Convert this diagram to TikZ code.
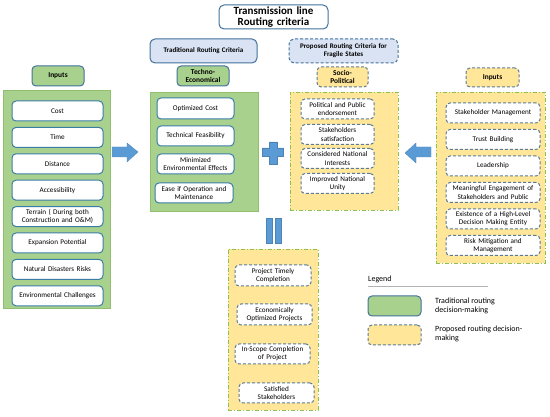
\documentclass[tikz,border=0pt]{standalone}
\usepackage{fontspec}
\setmainfont{Carlito}
\definecolor{greenfill}{HTML}{A9D18E}
\definecolor{greenline}{HTML}{8FBF6F}
\definecolor{itemblue}{HTML}{3A7CA5}
\definecolor{labelblue}{HTML}{41719C}
\definecolor{lightblue}{HTML}{DAE3F3}
\definecolor{yellowfill}{HTML}{FFE699}
\definecolor{dashgray}{HTML}{5A7A96}
\definecolor{paneldash}{HTML}{8DC04E}
\definecolor{arrowblue}{HTML}{5B9BD5}
\begin{document}
\begin{tikzpicture}[x=1pt,y=-1pt,
  sz/.style 2 args={minimum width=#1pt, minimum height=#2pt, text width=#1pt},
  base/.style={inner sep=0pt, align=center, font=\fontsize{7.2}{8.2}\selectfont},
  panelT/.style={base, draw=greenline, fill=greenfill, line width=0.7pt},
  panelP/.style={base, draw=paneldash, fill=yellowfill, line width=0.9pt, dash pattern=on 4pt off 2pt on 1pt off 2pt},
  itemT/.style={base, draw=itemblue, fill=white, rounded corners=4pt, line width=1pt},
  itemP/.style={base, draw=dashgray, fill=white, rounded corners=4pt, line width=1pt, dash pattern=on 3pt off 2pt},
  labelT/.style={base, draw=labelblue, fill=greenfill, rounded corners=4pt, line width=1pt, font=\fontsize{7.4}{8.2}\selectfont\bfseries},
  labelP/.style={base, draw=dashgray, fill=yellowfill, rounded corners=4pt, line width=1pt, dash pattern=on 3pt off 2pt, font=\fontsize{7.4}{8.2}\selectfont\bfseries},
  headT/.style={base, draw=labelblue, fill=lightblue, rounded corners=5pt, line width=1pt, font=\fontsize{7}{8}\selectfont\bfseries},
  headP/.style={headT, dash pattern=on 3pt off 2pt},
  legtext/.style={base, anchor=west, align=left, font=\fontsize{8}{9.2}\selectfont},
  blueshape/.style={fill=arrowblue, draw=arrowblue!85!black, line width=0.3pt}
]
\useasboundingbox (0,0) rectangle (550,417);

% title
\node[base, sz={109}{24}, draw=labelblue, fill=white, rounded corners=5pt, line width=1pt,
  font=\fontsize{11}{11.5}\selectfont\bfseries] (title) at (273.5,17) {Transmission line\\Routing criteria};

% headers
\node[headT, sz={107}{24}] (trad) at (203.5,51) {Traditional Routing Criteria};
\node[headP, sz={109}{24}] (prop) at (343.5,51) {Proposed Routing Criteria for\\Fragile States};

% left inputs
\node[labelT, sz={52}{20}] (inL) at (58,76) {Inputs};
\node[panelT, sz={107}{218}] (panL) at (56.5,199) {};
\foreach \t [count=\i from 0] in {Cost,Time,Distance,Accessibility,{Terrain ( During both\\Construction and O\&M)},Expansion Potential,Natural Disasters Risks,Environmental Challenges}{
  \node[itemT, sz={91}{20}] (L\i) at (57.5,111+26.4*\i) {\t};
}

% techno-economical
\node[labelT, sz={52}{20}] (tech) at (203,76) {Techno-\\Economical};
\node[panelT, sz={108}{119}] (panT) at (204,151.5) {};
\node[itemT, sz={77}{21}] (T0) at (195.5,108.5) {Optimized Cost};
\node[itemT, sz={77}{20}] (T1) at (195.5,136) {Technical Feasibility};
\node[itemT, sz={77}{20}] (T2) at (195.5,164) {Minimized\\Environmental Effects};
\node[itemT, sz={78}{20}] (T3) at (194,193) {Ease if Operation and\\Maintenance};

% socio-political
\node[labelP, sz={51}{20}] (soc) at (342.5,77) {Socio-\\Political};
\node[panelP, sz={108}{118}] (panS) at (344,151) {};
\node[itemP, sz={73}{20}] (S0) at (337.5,109) {Political and Public\\endorsement};
\node[itemP, sz={73}{20}] (S1) at (337.5,134.5) {Stakeholders\\satisfaction};
\node[itemP, sz={73}{20}] (S2) at (337.5,158.5) {Considered National\\Interests};
\node[itemP, sz={73}{20}] (S3) at (337.5,183.5) {Improved National\\Unity};

% right inputs
\node[labelP, sz={53}{19}] (inR) at (492.5,77.5) {Inputs};
\node[panelP, sz={109}{171}] (panR) at (490.5,177.5) {};
\node[itemP, sz={94}{20}] (R0) at (493,113) {Stakeholder Management};
\node[itemP, sz={94}{20}] (R1) at (493,139.5) {Trust Building};
\node[itemP, sz={94}{20}] (R2) at (493,166) {Leadership};
\node[itemP, sz={94}{20}] (R3) at (493,192.5) {Meaningful Engagement of\\Stakeholders and Public};
\node[itemP, sz={94}{20}] (R4) at (493,219) {Existence of a High-Level\\Decision Making Entity};
\node[itemP, sz={94}{20}] (R5) at (493,245.5) {Risk Mitigation and\\Management};

% outcomes
\node[panelP, sz={90}{161}] (panB) at (273,329.5) {};
\node[itemP, sz={76}{21}] (B0) at (273,275.5) {Project Timely\\Completion};
\node[itemP, sz={75}{21}] (B1) at (274.5,314.5) {Economically\\Optimized Projects};
\node[itemP, sz={75}{20}] (B2) at (272.5,354) {In-Scope Completion\\of Project};
\node[itemP, sz={75}{20}] (B3) at (276.5,393) {Satisfied\\Stakeholders};

% block arrows, plus, equals
\fill[blueshape] (112,147) -- (127,147) -- (127,143) -- (138,152) -- (127,162) -- (127,157) -- (112,157) -- cycle;
\fill[blueshape] (431,147) -- (416,147) -- (416,143) -- (405,153) -- (416,163) -- (416,157) -- (431,157) -- cycle;
\fill[blueshape] (269,142) -- (277,142) -- (277,148) -- (283,148) -- (283,156) -- (277,156) -- (277,164) -- (269,164) -- (269,156) -- (262,156) -- (262,148) -- (269,148) -- cycle;
\filldraw[blueshape] (266,218) rectangle (272,243);
\filldraw[blueshape] (275,218) rectangle (281,243);

% legend
\node[legtext] (legt) at (368,279) {Legend};
\coordinate (lg1) at (368,286);
\coordinate (lg2) at (488,286);
\draw[gray!60, line width=0.6pt] (lg1) -- (lg2);
\node[base, sz={53}{20}, draw=labelblue, fill=greenfill, rounded corners=4pt, line width=1pt] (legT) at (394.5,306) {};
\node[base, sz={53}{20}, draw=dashgray, fill=yellowfill, rounded corners=4pt, line width=1pt, dash pattern=on 3pt off 2pt] (legP) at (394.5,335) {};
\node[legtext] (legTt) at (435,306) {Traditional routing\\decision-making};
\node[legtext] (legPt) at (435,334) {Proposed routing decision-\\making};
\end{tikzpicture}
\end{document}
